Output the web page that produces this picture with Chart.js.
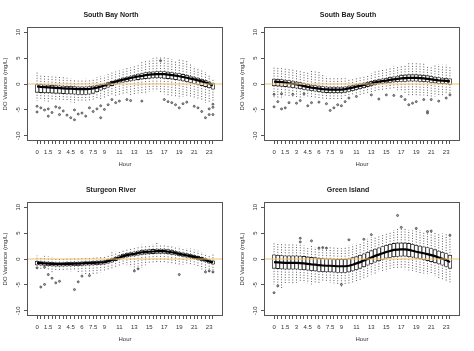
<!DOCTYPE html>
<html><head><meta charset="utf-8">
<script src="https://cdn.jsdelivr.net/npm/chart.js@4.4.0/dist/chart.umd.min.js"></script>
<style>
html,body{margin:0;padding:0;background:#fff;overflow:hidden;width:474px;height:351px;position:relative}
canvas{position:absolute}
</style></head><body>
<canvas id="c0" width="250" height="175" style="left:0px;top:0px"></canvas>
<canvas id="c1" width="250" height="175" style="left:237px;top:0px"></canvas>
<canvas id="c2" width="250" height="175" style="left:0px;top:175px"></canvas>
<canvas id="c3" width="250" height="175" style="left:237px;top:175px"></canvas>
<script>
const hours = [0,0.5,1,1.5,2,2.5,3,3.5,4,4.5,5,5.5,6,6.5,7,7.5,8,8.5,9,9.5,10,10.5,11,11.5,
  12,12.5,13,13.5,14,14.5,15,15.5,16,16.5,17,17.5,18,18.5,19,19.5,20,20.5,21,21.5,22,22.5,23,23.5];
const shownLabels = ['0','1.5','3','4.5','6','7.5','9','11','13','15','17','19','21','23'];
const yTicks = [-10,-5,0,5,10];
const titles = ['South Bay North','South Bay South','Sturgeon River','Green Island'];

// South Bay North
const sbnMed = [-0.45,-0.55,-0.6,-0.65,-0.7,-0.75,-0.8,-0.85,
  -0.9,-0.9,-0.95,-1.0,-1.0,-1.0,-0.95,-0.85,
  -0.7,-0.5,-0.3,-0.05,0.2,0.45,0.65,0.85,
  1.0,1.15,1.3,1.45,1.55,1.7,1.8,1.85,
  1.9,1.9,1.9,1.8,1.7,1.6,1.5,1.35,
  1.2,1.05,0.9,0.7,0.5,0.3,0.05,-0.3];
const sbnQ3 = [0.0,-0.1,-0.15,-0.2,-0.25,-0.3,-0.35,-0.4,
  -0.45,-0.45,-0.5,-0.55,-0.55,-0.55,-0.5,-0.4,
  -0.3,-0.1,0.05,0.25,0.5,0.75,0.95,1.2,
  1.35,1.55,1.7,1.9,2.0,2.2,2.3,2.35,
  2.4,2.4,2.4,2.3,2.2,2.1,2.0,1.85,
  1.7,1.55,1.35,1.15,0.9,0.7,0.4,0.1];
const sbnQ1 = [-1.6,-1.65,-1.7,-1.7,-1.75,-1.8,-1.8,-1.85,
  -1.9,-1.9,-1.95,-2.0,-2.0,-2.0,-1.95,-1.8,
  -1.5,-1.2,-0.9,-0.6,-0.3,-0.05,0.15,0.35,
  0.5,0.6,0.75,0.85,0.95,1.05,1.1,1.15,
  1.15,1.15,1.1,1.05,0.95,0.85,0.75,0.6,
  0.45,0.3,0.1,-0.1,-0.3,-0.5,-0.7,-1.0];
const sbnHi = [2.2,1.8,1.7,1.6,1.6,1.5,1.5,1.4,
  1.2,1.1,1.0,0.9,0.9,1.0,1.0,1.1,
  1.3,1.5,1.6,1.9,2.2,2.4,2.6,2.8,
  3.1,3.2,3.4,3.8,4.2,4.5,4.8,5.0,
  5.2,5.1,5.3,5.0,4.8,4.6,5.0,4.6,
  4.4,3.9,3.4,3.1,2.8,2.3,1.8,1.0];
const sbnLo = [-3.2,-3.0,-3.3,-3.4,-3.2,-3.0,-3.3,-3.2,
  -3.4,-3.5,-3.6,-3.4,-3.3,-3.5,-3.2,-3.3,
  -3.0,-3.2,-2.8,-2.5,-2.2,-2.4,-2.2,-2.0,
  -2.0,-2.2,-2.0,-1.8,-2.0,-1.8,-1.5,-1.4,
  -1.3,-1.6,-2.0,-2.2,-2.4,-2.6,-2.8,-2.5,
  -2.4,-2.6,-2.8,-3.0,-3.3,-3.6,-3.6,-3.4];
const sbnOut = [[0,-4.3],[0,-5.4],[0.5,-4.6],[1,-5.0],[1.5,-6.2],[1.5,-4.8],[2,-5.5],[2.5,-4.4],[3,-5.9],[3,-4.6],
  [3.5,-5.2],[4,-6.0],[4.5,-6.5],[5,-6.9],[5,-5.0],[5.5,-5.8],[6,-5.6],[6.5,-6.2],[7,-4.6],[7.5,-5.3],[8,-4.8],
  [8.5,-6.5],[8.5,-4.2],[9,-4.9],[9.5,-4.0],[10,-3.0],[10.5,-3.6],[11,-3.3],[12,-3.0],[12.5,-3.2],[14,-3.3],
  [16.5,4.5],[17,-3.0],[17.5,-3.4],[18,-3.6],[18.5,-4.0],[19,-4.6],[19.5,-3.8],[20,-3.5],[21,-4.3],[21.5,-4.6],
  [22,-5.3],[22.5,-6.5],[23,-5.9],[23,-4.8],[23.5,-5.9],[23.5,-4.5],[23.5,-3.9]];

// South Bay South
const sbsMed = [0.45,0.4,0.35,0.25,0.15,0.05,-0.1,-0.25,
  -0.4,-0.55,-0.7,-0.8,-0.9,-1.0,-1.05,-1.1,
  -1.1,-1.1,-1.1,-1.0,-0.85,-0.7,-0.5,-0.35,
  -0.2,-0.05,0.1,0.3,0.45,0.55,0.65,0.8,
  0.9,1.0,1.1,1.15,1.2,1.2,1.2,1.15,
  1.1,1.0,0.9,0.8,0.7,0.65,0.6,0.5];
const sbsQ3 = [0.95,0.9,0.85,0.75,0.65,0.55,0.4,0.25,
  0.1,-0.05,-0.2,-0.3,-0.4,-0.5,-0.55,-0.6,
  -0.6,-0.6,-0.6,-0.55,-0.4,-0.3,-0.1,0.05,
  0.2,0.35,0.5,0.7,0.85,1.0,1.1,1.3,
  1.4,1.55,1.7,1.75,1.8,1.8,1.8,1.75,
  1.7,1.6,1.5,1.35,1.25,1.15,1.1,1.0];
const sbsQ1 = [-0.35,-0.4,-0.45,-0.5,-0.6,-0.7,-0.8,-0.9,
  -1.05,-1.2,-1.3,-1.4,-1.5,-1.6,-1.65,-1.7,
  -1.7,-1.7,-1.7,-1.6,-1.45,-1.3,-1.1,-0.9,
  -0.7,-0.5,-0.35,-0.15,0.0,0.1,0.2,0.3,
  0.4,0.45,0.5,0.5,0.55,0.55,0.55,0.5,
  0.45,0.4,0.3,0.2,0.1,0.05,0.0,-0.1];
const sbsHi = [3.2,3.2,3.1,3.2,3.0,2.8,2.75,2.6,
  2.5,2.4,2.5,2.5,2.6,2.0,1.5,1.35,
  1.3,1.2,1.15,1.1,1.0,1.2,1.3,1.4,
  1.5,1.8,2.1,2.4,2.6,2.8,3.1,3.3,
  3.5,3.3,3.4,3.7,4.0,4.1,4.2,4.0,
  3.9,3.6,3.4,3.6,3.8,3.7,3.7,3.2];
const sbsLo = [-2.6,-2.8,-2.6,-2.5,-2.4,-2.4,-2.5,-2.6,
  -2.6,-2.7,-2.8,-2.9,-3.0,-3.0,-3.1,-3.2,
  -3.2,-3.0,-2.9,-2.6,-2.3,-2.2,-2.1,-2.1,
  -2.0,-2.0,-1.8,-1.6,-1.4,-1.3,-1.2,-1.1,
  -1.0,-1.2,-1.4,-1.8,-2.2,-2.3,-2.4,-2.3,
  -2.2,-2.4,-2.6,-2.4,-2.3,-2.2,-2.0,-1.9];
const sbsOut = [[0,-4.4],[0.5,-3.4],[1,-4.8],[1.5,-4.6],[2,-3.6],[3,-3.7],[3.5,-3.2],[4.5,-4.2],[5,-3.6],[6,-3.5],
  [7,-3.8],[7.5,-5.1],[8,-4.6],[8.5,-4.0],[9,-4.2],[9.5,-3.4],[10,-2.7],[11,-2.4],[13,-2.1],[14,-2.9],[15,-2.1],
  [16,-2.2],[17,-2.4],[17.5,-3.0],[18,-4.0],[18.5,-3.7],[19,-3.4],[20,-3.0],[20.5,-5.3],[20.5,-5.6],[21,-3.0],
  [22,-3.3],[23,-2.7],[0,-2.0],[1,-1.9],[2.5,-2.0],[4,-1.9],[23.5,-2.1]];

// Sturgeon River
const srMed = [-0.75,-0.8,-0.85,-0.9,-0.95,-1.0,-1.0,-1.0,
  -0.95,-0.95,-0.9,-0.9,-0.85,-0.8,-0.8,-0.75,
  -0.7,-0.65,-0.6,-0.4,-0.2,0.05,0.3,0.55,
  0.75,0.9,1.0,1.15,1.3,1.35,1.4,1.45,
  1.5,1.5,1.5,1.4,1.3,1.15,1.0,0.85,
  0.7,0.55,0.4,0.2,0.0,-0.2,-0.45,-0.65];
const srQ3 = [-0.45,-0.5,-0.55,-0.6,-0.65,-0.7,-0.7,-0.7,
  -0.65,-0.65,-0.6,-0.6,-0.55,-0.5,-0.5,-0.45,
  -0.4,-0.35,-0.3,-0.1,0.1,0.35,0.65,0.9,
  1.1,1.25,1.4,1.55,1.7,1.75,1.8,1.85,
  1.9,1.9,1.9,1.8,1.7,1.5,1.35,1.2,
  1.05,0.9,0.7,0.5,0.3,0.1,-0.15,-0.35];
const srQ1 = [-1.15,-1.2,-1.25,-1.3,-1.35,-1.4,-1.4,-1.4,
  -1.35,-1.35,-1.3,-1.3,-1.25,-1.2,-1.2,-1.15,
  -1.1,-1.05,-1.0,-0.8,-0.6,-0.3,-0.05,0.2,
  0.4,0.55,0.6,0.75,0.9,0.95,1.0,1.05,
  1.1,1.1,1.1,1.0,0.9,0.8,0.65,0.5,
  0.35,0.2,0.05,-0.15,-0.35,-0.55,-0.8,-1.0];
const srHi = [0.65,0.5,0.6,0.5,0.4,0.2,0.05,0.2,
  0.2,0.2,0.3,0.3,0.3,0.3,0.4,0.45,
  0.5,0.55,0.6,0.9,1.35,1.4,1.6,1.8,
  2.0,2.1,2.25,2.4,2.75,2.6,2.75,2.9,
  3.1,2.9,2.9,2.8,2.6,2.5,2.4,2.2,
  2.1,2.0,1.8,1.6,1.35,1.1,0.85,0.85];
const srLo = [-2.0,-2.0,-1.8,-2.2,-2.6,-2.4,-2.3,-2.3,
  -2.2,-2.4,-2.3,-2.6,-2.8,-2.9,-3.0,-3.0,
  -3.0,-2.6,-2.4,-2.2,-1.9,-1.6,-1.4,-1.3,
  -1.2,-1.5,-2.1,-2.0,-1.7,-1.2,-0.8,-0.7,
  -0.6,-0.7,-0.8,-0.9,-1.0,-1.1,-1.1,-1.1,
  -1.0,-1.0,-1.1,-1.4,-2.0,-2.4,-2.7,-2.7];
const srOut = [[0.5,-5.4],[1,-4.9],[1.5,-3.0],[2,-3.7],[2.5,-4.6],[3,-4.3],[5,-5.9],[5.5,-4.4],[6,-3.3],[7,-3.2],
  [13,-2.3],[13.5,-1.9],[19,-3.0],[0,-1.7],[1,-1.6],[22.5,-2.5],[23,-2.3],[23.5,-2.5]];

// Green Island
const giMed = [-0.6,-0.65,-0.7,-0.75,-0.75,-0.75,-0.75,-0.8,
  -0.85,-0.95,-1.05,-1.1,-1.2,-1.25,-1.3,-1.3,
  -1.35,-1.4,-1.4,-1.4,-1.3,-1.1,-0.85,-0.6,
  -0.3,0.0,0.3,0.6,0.85,1.1,1.35,1.55,
  1.75,1.8,1.85,1.85,1.75,1.6,1.4,1.25,
  1.1,0.95,0.75,0.55,0.3,0.05,-0.2,-0.6];
const giQ3 = [0.8,0.7,0.65,0.6,0.6,0.6,0.6,0.55,
  0.5,0.4,0.3,0.25,0.15,0.1,0.05,0.05,
  0.0,-0.05,-0.05,-0.05,0.05,0.25,0.45,0.7,
  1.0,1.3,1.6,1.9,2.15,2.4,2.65,2.85,
  3.0,3.1,3.1,3.1,3.0,2.85,2.65,2.5,
  2.35,2.2,2.0,1.8,1.55,1.3,1.05,0.7];
const giQ1 = [-1.8,-1.85,-1.9,-1.95,-1.95,-1.95,-1.95,-2.0,
  -2.05,-2.15,-2.25,-2.3,-2.4,-2.45,-2.5,-2.5,
  -2.55,-2.6,-2.6,-2.6,-2.5,-2.3,-2.05,-1.8,
  -1.5,-1.2,-0.9,-0.6,-0.35,-0.1,0.15,0.3,
  0.45,0.5,0.55,0.55,0.45,0.35,0.15,0.0,
  -0.15,-0.3,-0.5,-0.7,-0.95,-1.2,-1.45,-1.8];
const giHi = [3.1,3.2,3.1,3.1,3.0,2.9,2.75,2.8,
  2.6,2.4,2.5,2.3,2.4,2.5,2.5,2.4,
  2.3,2.2,2.1,2.2,2.6,2.8,3.0,3.2,
  3.5,3.9,4.2,4.3,4.4,4.6,5.0,5.3,
  5.6,5.8,6.0,6.1,5.6,5.5,5.8,5.6,
  5.3,5.1,5.4,5.2,5.0,4.9,4.9,4.7];
const giLo = [-4.9,-5.0,-5.6,-4.8,-4.6,-4.7,-4.6,-4.5,
  -4.6,-4.7,-4.9,-4.5,-4.6,-4.4,-4.4,-4.6,
  -4.7,-4.9,-5.3,-4.9,-4.8,-4.5,-4.3,-4.1,
  -3.8,-3.4,-3.0,-2.8,-2.4,-2.4,-2.4,-2.2,
  -2.0,-1.9,-1.9,-2.0,-2.2,-2.3,-2.5,-2.7,
  -2.8,-2.9,-3.0,-3.3,-3.7,-4.0,-4.2,-4.6];
const giOut = [[0,-6.5],[0.5,-5.2],[3.5,4.0],[3.5,3.3],[5,3.5],[6,2.1],[6.5,2.2],[7,2.1],[10,3.7],[12,3.8],
  [13,4.7],[16.5,8.4],[17,6.1],[19,5.9],[20.5,5.3],[21,5.4],[23.5,4.6],[9,-4.9]];

Chart.defaults.font.family = '"Liberation Sans", Arial, sans-serif';

const framePlugin = {
  id: 'frame',
  afterDatasetsDraw(chart) {
    const {ctx, chartArea: a} = chart;
    ctx.save();
    ctx.strokeStyle = '#555';
    ctx.lineWidth = 1;
    ctx.strokeRect(a.left - 0.5, a.top - 0.5, a.right - a.left + 1, a.bottom - a.top + 1);
    ctx.restore();
  }
};

function pos(h) { return hours.indexOf(h) + 1; }

function makeChart(id, title, med, q1, q3, lo, hi, out) {
  const whisk = [];
  hours.forEach((h, i) => {
    whisk.push({x: i + 1, y: q3[i]}, {x: i + 1, y: hi[i]}, {x: i + 1, y: null},
               {x: i + 1, y: q1[i]}, {x: i + 1, y: lo[i]}, {x: i + 1, y: null});
  });
  new Chart(document.getElementById(id), {
    type: 'bar',
    data: {
      datasets: [
        {type: 'line', data: [{x: -1.42, y: 0}, {x: 50.42, y: 0}], borderColor: '#F2BF6C',
         borderWidth: 1, pointRadius: 0, order: 0},
        {type: 'line', data: hours.map((h, i) => ({x: i + 1, y: med[i]})), borderColor: '#000',
         borderWidth: 2.2, pointRadius: 0, order: 1},
        {type: 'bar', data: hours.map((h, i) => ({x: i + 1, y: [q1[i], q3[i]]})), backgroundColor: '#fff',
         borderColor: '#222', borderWidth: 0.8, borderSkipped: false, barThickness: 3.6, order: 2},
        {type: 'scatter', data: out.map(p => ({x: pos(p[0]), y: p[1]})), pointRadius: 1.0,
         borderWidth: 0.8, borderColor: '#444', backgroundColor: 'rgba(90,90,90,0.5)', order: 3},
        {type: 'line', data: whisk, borderColor: '#5a5a5a', borderWidth: 1, borderDash: [1, 1.6],
         pointRadius: 0, spanGaps: false, order: 4}
      ]
    },
    options: {
      responsive: false, animation: false, devicePixelRatio: 1,
      layout: {padding: {left: 0, right: 28, top: 0, bottom: 0}},
      plugins: {
        legend: {display: false}, tooltip: {enabled: false},
        title: {display: true, text: title, color: '#222', font: {size: 7, weight: 'bold'},
                padding: {top: 10.8, bottom: 8.8}}
      },
      scales: {
        x: {
          type: 'linear', min: -1.42, max: 50.42, offset: false,
          afterBuildTicks: s => { s.ticks = hours.map((h, i) => ({value: i + 1})); },
          afterFit: s => { s.height = 35; },
          ticks: {autoSkip: false, maxRotation: 0, minRotation: 0, padding: 4.7, color: '#333',
                  font: {size: 6},
                  callback: v => { const h = hours[Math.round(v) - 1]; return shownLabels.includes(String(h)) ? String(h) : ''; }},
          grid: {display: true, drawOnChartArea: false, drawTicks: true, tickLength: 4, color: '#555', offset: false},
          border: {display: false},
          title: {display: true, text: 'Hour', color: '#333', font: {size: 6}, padding: {top: 0, bottom: 7.1}}
        },
        y: {
          type: 'linear', min: -10.8, max: 10.8,
          afterBuildTicks: s => { s.ticks = yTicks.map(v => ({value: v})); },
          afterFit: s => { s.width = 28; },
          ticks: {minRotation: 90, maxRotation: 90, crossAlign: 'center', padding: 1.5, color: '#333',
                  font: {size: 6}, callback: v => String(v)},
          grid: {display: true, drawOnChartArea: false, drawTicks: true, tickLength: 4, color: '#555'},
          border: {display: false},
          title: {display: true, text: 'DO Variance (mg/L)', color: '#333', font: {size: 6}, padding: {top: 1.4, bottom: 0}}
        }
      }
    },
    plugins: [framePlugin]
  });
}

makeChart('c0', titles[0], sbnMed, sbnQ1, sbnQ3, sbnLo, sbnHi, sbnOut);
makeChart('c1', titles[1], sbsMed, sbsQ1, sbsQ3, sbsLo, sbsHi, sbsOut);
makeChart('c2', titles[2], srMed, srQ1, srQ3, srLo, srHi, srOut);
makeChart('c3', titles[3], giMed, giQ1, giQ3, giLo, giHi, giOut);
</script>
</body></html>
